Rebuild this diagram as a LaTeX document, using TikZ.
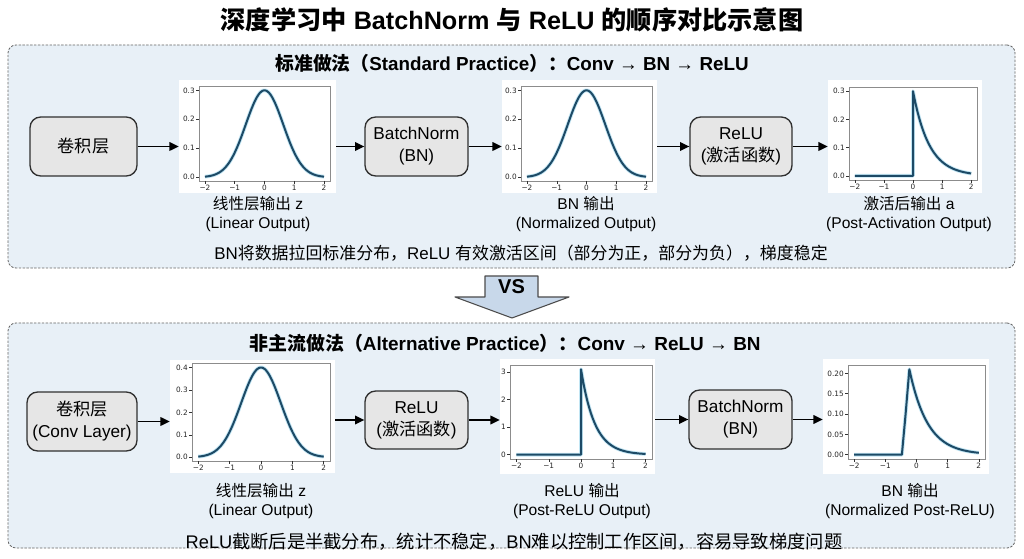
\documentclass[tikz,border=0pt]{standalone}
\usepackage{fontspec}
\setmainfont{Liberation Sans}
\newfontfamily\cjk{Noto Sans CJK SC}
\newfontfamily\tickfont{DejaVu Sans}
\usetikzlibrary{arrows.meta}
\newcommand\zh[1]{{\cjk #1}}
\definecolor{panelfill}{HTML}{E8F0F7}
\definecolor{panelline}{HTML}{666666}
\definecolor{boxfill}{HTML}{E6E6E6}
\definecolor{boxline}{HTML}{303030}
\definecolor{curvec}{HTML}{1D4A66}
\definecolor{haloc}{HTML}{A9DCF0}
\definecolor{framec}{HTML}{8C8C8C}
\definecolor{vsfill}{HTML}{C8D8EA}
\newcommand\curve[1]{\draw[haloline] #1; \draw[curveline] #1;}
\newcommand\mplaxes[8]{%
  \pgfmathsetmacro\msx{(#3-#1)/4.4}%
  \pgfmathsetmacro\msy{(#4-#2)/((#6)-(#5))}%
  \pgfmathsetmacro\mox{#1+2.2*\msx}%
  \pgfmathsetmacro\moy{#4+(#5)*\msy}%
  \pgfmathsetmacro\mtx{3/\msx}%
  \pgfmathsetmacro\mty{3/\msy}%
  \begin{scope}[shift={(\mox,\moy)},xscale=\msx,yscale=-\msy]
    #8
    \draw[framest] (-2.2,#5) rectangle (2.2,#6);
    \foreach \t/\l in {-2/−2,-1/−1,0/0,1/1,2/2}{%
      \draw[tickst] (\t,#5) -- (\t,{#5-\mty});
      \node[ticklab,anchor=north] at (\t,{#5-\mty}) {\l};}
    \foreach \t/\l in {#7}{%
      \draw[tickst] (-2.2,\t) -- ({-2.2-\mtx},\t);
      \node[ticklab,anchor=east] at ({-2.2-\mtx},\t) {\l};}
  \end{scope}}
\begin{document}
\begin{tikzpicture}[x=0.75pt,y=-0.75pt,
  sz/.style 2 args={minimum width={#1*0.75pt},minimum height={#2*0.75pt}},
  panel/.style={draw=panelline,fill=panelfill,dash pattern=on 1.8pt off 1.1pt,line width=0.6pt,rounded corners=6pt,inner sep=0},
  stagebox/.style={draw=boxline,fill=boxfill,line width=1pt,rounded corners=8pt,align=center,inner sep=0,font=\fontsize{12.9}{16.5}\selectfont},
  plotbg/.style={fill=white,draw=none,inner sep=0},
  flow/.style={-{Triangle[length=7pt,width=6.5pt]},line width=1.1pt,black},
  lbl/.style={align=center,inner sep=0,font=\fontsize{11.7}{13.8}\selectfont},
  framest/.style={draw=framec,line width=0.45pt},
  tickst/.style={draw=black!80,line width=0.35pt},
  ticklab/.style={inner sep=0.8pt,font=\tickfont\fontsize{5.5}{6}\selectfont,text=black!85},
  haloline/.style={draw=haloc,line width=2.8pt,line join=round,opacity=0.7},
  curveline/.style={draw=curvec,line width=1.5pt,line join=round}]
\useasboundingbox[fill=white] (0,0) rectangle (1024,559);

% title
\node[inner sep=0,font=\bfseries\fontsize{18.9}{22}\selectfont] (title) at (512,20)
  {\zh{深度学习中} BatchNorm \zh{与} ReLU \zh{的顺序对比示意图}};

% panels
\node[panel,sz={1007}{223}] (toppanel) at (511.5,156.5) {};
\node[panel,sz={1007}{225}] (botpanel) at (511.5,435.5) {};

\node[inner sep=0,font=\bfseries\fontsize{14.1}{17}\selectfont] (sub1) at (512,63)
  {\zh{标准做法（}Standard Practice\zh{）：}Conv → BN → ReLU};
\node[inner sep=0,font=\bfseries\fontsize{14.2}{17}\selectfont] (sub2) at (505,343)
  {\zh{非主流做法（}Alternative Practice\zh{）：}Conv → ReLU → BN};

% ---------- top row ----------
\node[stagebox,sz={107}{59}] (conv1) at (83.5,146.5) {\zh{卷积层}};
\node[stagebox,sz={103}{59}] (bn1) at (416.5,146.5) {BatchNorm\\(BN)};
\node[stagebox,sz={102}{59}] (relu1) at (741,146.5) {ReLU\\(\zh{激活函数})};

\node[plotbg,sz={157}{113}] (tp1) at (257.5,136.5) {};
\node[plotbg,sz={155}{113}] (tp2) at (579.5,136.5) {};
\node[plotbg,sz={154}{113}] (tp3) at (905,136.5) {};

\mplaxes{199}{86}{330}{181}{-0.013}{0.315}{0/0.0,0.1/0.1,0.2/0.2,0.3/0.3}
  {\curve{plot[domain=-2:2,samples=90] (\x,{0.3*exp(-(\x*\x)/0.7938)})}}
\mplaxes{521}{86}{652}{181}{-0.013}{0.315}{0/0.0,0.1/0.1,0.2/0.2,0.3/0.3}
  {\curve{plot[domain=-2:2,samples=90] (\x,{0.3*exp(-(\x*\x)/0.7938)})}}
\mplaxes{849}{87}{977}{180}{-0.015}{0.315}{0/0.0,0.1/0.1,0.2/0.2,0.3/0.3}
  {\curve{(-2,0) -- (0,0) -- (0,0.3) -- plot[domain=0:2,samples=60] (\x,{0.3*exp(-1.8*\x)})}}

\node[lbl] (tl1) at (258,214) {\zh{线性层输出} z\\(Linear Output)};
\node[lbl] (tl2) at (586,214) {BN \zh{输出}\\(Normalized Output)};
\node[lbl] (tl3) at (909,214) {\zh{激活后输出} a\\(Post-Activation Output)};

\draw[flow] (conv1.east) -- (conv1.east -| tp1.west);
\draw[flow] (tp1.east |- bn1.west) -- (bn1.west);
\draw[flow] (bn1.east) -- (bn1.east -| tp2.west);
\draw[flow] (tp2.east |- relu1.west) -- (relu1.west);
\draw[flow] (relu1.east) -- (relu1.east -| tp3.west);

\node[inner sep=0,font=\fontsize{12.7}{15}\selectfont] (note1) at (521,253)
  {BN\zh{将数据拉回标准分布，}ReLU \zh{有效激活区间（部分为正，部分为负），梯度稳定}};

% ---------- VS arrow ----------
\draw[draw=black!70,fill=vsfill,line width=0.8pt,line join=round]
  (485,276) -- (538,276) -- (538,297) -- (569,297) -- (512,318) -- (455,297) -- (485,297) -- cycle;
\node[inner sep=0,font=\bfseries\fontsize{15}{17}\selectfont] (vs) at (511.5,287) {VS};

% ---------- bottom row ----------
\node[stagebox,sz={110}{59}] (conv2) at (82,421.5) {\zh{卷积层}\\(Conv Layer)};
\node[stagebox,sz={103}{58}] (relu2) at (416.5,420) {ReLU\\(\zh{激活函数})};
\node[stagebox,sz={103}{59}] (bn2) at (740.5,419.5) {BatchNorm\\(BN)};

\node[plotbg,sz={165}{113}] (bp1) at (252.5,416.5) {};
\node[plotbg,sz={155}{115}] (bp2) at (577.5,416.5) {};
\node[plotbg,sz={166}{115}] (bp3) at (906,416.5) {};

\mplaxes{192}{363}{330}{461}{-0.017}{0.42}{0/0.0,0.1/0.1,0.2/0.2,0.3/0.3,0.4/0.4}
  {\curve{plot[domain=-2:2,samples=90] (\x,{0.4*exp(-(\x*\x)/0.7938)})}}
\mplaxes{510}{365}{652}{459}{-0.155}{3.255}{0/0,1/1,2/2,3/3}
  {\curve{(-2,0) -- (0,0) -- (0,3.1) -- plot[domain=0:2,samples=60] (\x,{3.1*exp(-2.35*\x)})}}
\mplaxes{848}{365}{985}{459}{-0.0105}{0.2205}{0/0.00,0.05/0.05,0.1/0.10,0.15/0.15,0.2/0.20}
  {\curve{(-2,0) -- (-0.47,0) -- (-0.35,0.1) -- (-0.23,0.21) -- plot[domain=-0.23:2,samples=60] (\x,{0.21*exp(-1.7*(\x+0.23))})}}

\node[lbl] (bl1) at (261,501) {\zh{线性层输出} z\\(Linear Output)};
\node[lbl] (bl2) at (582,501) {ReLU \zh{输出}\\(Post-ReLU Output)};
\node[lbl] (bl3) at (910,501) {BN \zh{输出}\\(Normalized Post-ReLU)};

\draw[flow] (conv2.east) -- (conv2.east -| bp1.west);
\draw[flow] (bp1.east |- relu2.west) -- (relu2.west);
\draw[flow] (relu2.east) -- (relu2.east -| bp2.west);
\draw[flow] (bp2.east |- bn2.west) -- (bn2.west);
\draw[flow] (bn2.east) -- (bn2.east -| bp3.west);

\node[inner sep=0,font=\fontsize{13.7}{16}\selectfont] (note2) at (514,542)
  {ReLU\zh{截断后是半截分布，统计不稳定，}BN\zh{难以控制工作区间，容易导致梯度问题}};
\end{tikzpicture}
\end{document}
